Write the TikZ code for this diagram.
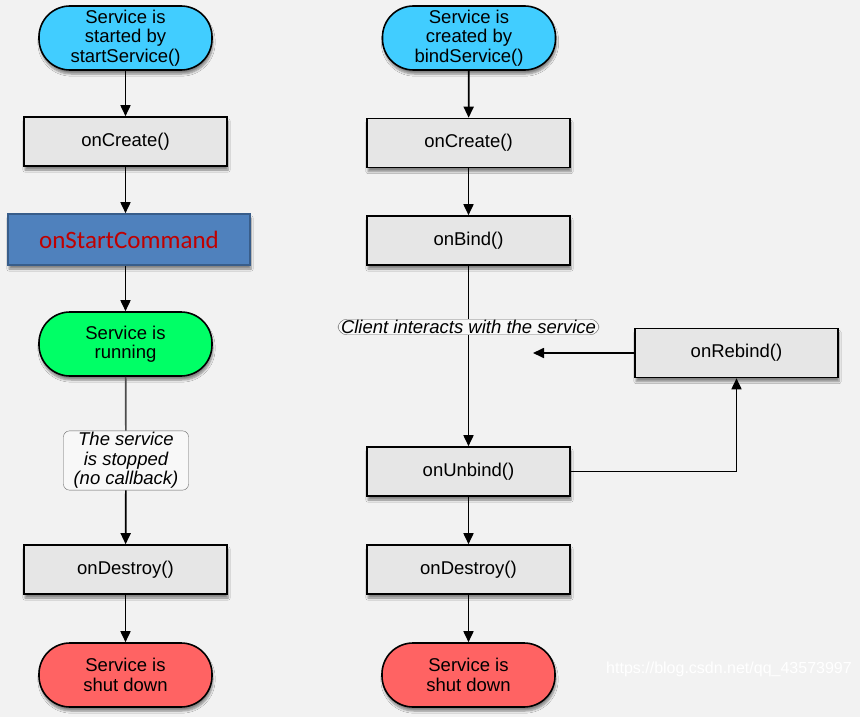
\documentclass[tikz,border=0pt]{standalone}
\usepackage{fontspec}
\setmainfont{Liberation Sans}
\newfontfamily\calib{Carlito}
\usetikzlibrary{shadows.blur,arrows.meta}
\definecolor{bgc}{HTML}{F2F2F2}
\definecolor{cyanc}{HTML}{41CDFF}
\definecolor{greenc}{HTML}{00FF66}
\definecolor{redc}{HTML}{FF6363}
\definecolor{boxc}{HTML}{E6E6E6}
\definecolor{steelc}{HTML}{4F81BD}
\definecolor{steeld}{HTML}{385D8A}
\definecolor{txtred}{HTML}{C00000}
\tikzset{
  fnt/.style={font=\fontsize{18.5}{19.5}\selectfont},
  shad/.style={blur shadow={shadow xshift=1pt, shadow yshift=-4pt, shadow blur steps=6, shadow opacity=45}},
  pill/.style={fnt, shad, draw=black, line width=1.6pt, rounded corners=31pt, minimum width=173pt, minimum height=64pt, align=center, inner sep=0pt},
  stepbox/.style={fnt, shad, draw=black, line width=1.6pt, fill=boxc, minimum width=203pt, minimum height=49pt, inner sep=0pt},
  note/.style={draw=black!60, fill=bgc!50!white, rounded corners=6pt, align=center, inner sep=1.5pt},
  arr/.style={line width=1.7pt, -{Triangle[length=11pt,width=10pt]}},
  ln/.style={line width=1.7pt}
}
\begin{document}
\begin{tikzpicture}[x=1pt,y=-1pt]
\fill[bgc] (0,0) rectangle (860,717);
\useasboundingbox (0,0) rectangle (860,717);
% left column
\node[pill, fill=cyanc] (lstart) at (125.5,38) {Service is\\started by\\startService()};
\node[stepbox] (lcreate) at (125.5,141.5) {onCreate()};
\node[shad, draw=steeld, line width=1.6pt, fill=steelc, minimum width=242pt, minimum height=51pt, inner sep=0pt, text=txtred, font=\calib\fontsize{25}{27}\selectfont] (lcmd) at (129,239.5) {onStartCommand};
\node[pill, fill=greenc] (lrun) at (125.5,344) {Service is\\running};
\node[note, font=\fontsize{18.5}{19.5}\selectfont\itshape, minimum width=125pt, minimum height=57pt] (lstop) at (126,460.5) {The service\\is stopped\\(no callback)};
\node[stepbox] (ldestroy) at (125.5,569.5) {onDestroy()};
\node[pill, fill=redc] (lshut) at (125.5,675) {Service is\\shut down};
\draw[arr] (lstart) -- (lcreate);
\draw[arr] (lcreate.south) -- (lcreate.south |- lcmd.north);
\draw[arr] (lcreate.south |- lcmd.south) -- (lrun.north);
\draw[ln, black!70] (lrun) -- (lstop);
\draw[arr] (lstop) -- (ldestroy);
\draw[arr] (ldestroy) -- (lshut);
% right column
\node[pill, fill=cyanc] (rstart) at (469,38) {Service is\\created by\\bindService()};
\node[stepbox] (rcreate) at (468.5,143) {onCreate()};
\node[stepbox] (rbind) at (468.5,240.5) {onBind()};
\node[stepbox] (runbind) at (468.5,471.5) {onUnbind()};
\node[stepbox] (rrebind) at (736.5,353) {onRebind()};
\node[stepbox] (rdestroy) at (468.5,569.5) {onDestroy()};
\node[pill, fill=redc] (rshut) at (468.5,675) {Service is\\shut down};
\coordinate (rback) at (533,353);
\draw[arr] (rstart) -- (rcreate);
\draw[arr] (rcreate) -- (rbind);
\draw[arr] (rbind) -- (runbind);
\node[note, font=\fontsize{18.5}{19.5}\selectfont\itshape, inner xsep=3pt, inner ysep=1pt, rounded corners=9pt] (rclient) at (468.5,327) {Client interacts with the service};
\draw[arr] (rrebind.west) -- (rback);
\draw[arr] (runbind.east) -| (rrebind.south);
\draw[arr] (runbind) -- (rdestroy);
\draw[arr] (rdestroy) -- (rshut);
% watermark
\node[font=\fontsize{16}{18}\selectfont, text=white] (wm) at (729,669) {https://blog.csdn.net/qq\_43573997};
\end{tikzpicture}
\end{document}
